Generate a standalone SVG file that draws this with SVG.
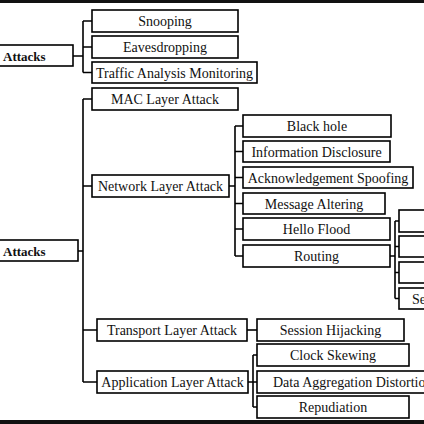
<svg xmlns="http://www.w3.org/2000/svg" width="424" height="424" viewBox="0 0 424 424" font-family="Liberation Serif, Times New Roman, DejaVu Serif, serif">
<style>
.b{fill:#fff;stroke:#000;stroke-width:1.6}
.t{font-size:14px;fill:#111;text-anchor:middle}
.h{font-size:13px;font-weight:bold;fill:#111}
.c{fill:none;stroke:#000;stroke-width:1.6}
</style>
<rect width="424" height="424" fill="#fff"/>
<rect x="0" y="0" width="424" height="3" fill="#111"/>
<rect x="0" y="420" width="424" height="4" fill="#111"/>
<g id="connectors" class="c">
<path d="M73,56H83M83,21V72.5M83,21H92M83,47H92M83,72.5H92"/>
<path d="M78,251H83M83,99V382M83,99H92M83,186H92M83,330H97M83,382H97"/>
<path d="M229,186H235M235,126V256M235,126H243M235,151.5H243M235,177.5H243M235,203.5H243M235,229H243M235,256H243"/>
<path d="M390,256H395M395,221V298.5M395,221H399M395,246.5H399M395,272.5H399M395,298.5H399"/>
<path d="M247,330H257"/>
<path d="M248,382H253M253,355V407M253,355H257M253,382H257M253,407H257"/>
</g>
<g id="passive"><rect class="b" x="-5" y="45" width="78" height="21"/><text class="h" x="3" y="60.5" font-family="Liberation Serif, serif">Attacks</text></g>
<g id="snooping"><rect class="b" x="92" y="10" width="146" height="22"/><text class="t" x="165" y="26" font-family="Liberation Serif, serif">Snooping</text></g>
<g id="eavesdropping"><rect class="b" x="92" y="36" width="146" height="22"/><text class="t" x="165" y="52" font-family="Liberation Serif, serif">Eavesdropping</text></g>
<g id="traffic"><rect class="b" x="92" y="62" width="165" height="21"/><text class="t" x="174.5" y="77.5" font-family="Liberation Serif, serif">Traffic Analysis Monitoring</text></g>
<g id="active"><rect class="b" x="-5" y="240" width="83" height="21"/><text class="h" x="3" y="255.5" font-family="Liberation Serif, serif">Attacks</text></g>
<g id="mac"><rect class="b" x="92" y="88" width="146" height="22"/><text class="t" x="165" y="104" font-family="Liberation Serif, serif">MAC Layer Attack</text></g>
<g id="network"><rect class="b" x="92" y="175" width="137" height="22"/><text class="t" x="160.5" y="191" font-family="Liberation Serif, serif">Network Layer Attack</text></g>
<g id="transport"><rect class="b" x="97" y="319" width="150" height="22"/><text class="t" x="172" y="335" font-family="Liberation Serif, serif">Transport Layer Attack</text></g>
<g id="application"><rect class="b" x="97" y="371" width="151" height="22"/><text class="t" x="172.5" y="387" font-family="Liberation Serif, serif">Application Layer Attack</text></g>
<g id="blackhole"><rect class="b" x="243" y="115" width="148" height="22"/><text class="t" x="317" y="131" font-family="Liberation Serif, serif">Black hole</text></g>
<g id="infodisclosure"><rect class="b" x="243" y="141" width="147" height="21"/><text class="t" x="316.5" y="156.5" font-family="Liberation Serif, serif">Information Disclosure</text></g>
<g id="ackspoofing"><rect class="b" x="243" y="167" width="170" height="21"/><text class="t" x="328" y="182.5" font-family="Liberation Serif, serif">Acknowledgement Spoofing</text></g>
<g id="msgaltering"><rect class="b" x="243" y="193" width="142" height="21"/><text class="t" x="314" y="208.5" font-family="Liberation Serif, serif">Message Altering</text></g>
<g id="helloflood"><rect class="b" x="243" y="218" width="147" height="22"/><text class="t" x="316.5" y="234" font-family="Liberation Serif, serif">Hello Flood</text></g>
<g id="routing"><rect class="b" x="243" y="245" width="147" height="22"/><text class="t" x="316.5" y="261" font-family="Liberation Serif, serif">Routing</text></g>
<g id="routing1"><rect class="b" x="399" y="210" width="40" height="22"/></g>
<g id="routing2"><rect class="b" x="399" y="236" width="40" height="21"/></g>
<g id="routing3"><rect class="b" x="399" y="262" width="40" height="21"/></g>
<g id="routing4"><rect class="b" x="399" y="288" width="40" height="21"/><text class="t" x="412" y="303.5" style="text-anchor:start" font-family="Liberation Serif, serif">Selective Forwarding</text></g>
<g id="session"><rect class="b" x="257" y="319" width="147" height="22"/><text class="t" x="330.5" y="335" font-family="Liberation Serif, serif">Session Hijacking</text></g>
<g id="clock"><rect class="b" x="257" y="344" width="152" height="22"/><text class="t" x="333" y="360" font-family="Liberation Serif, serif">Clock Skewing</text></g>
<g id="dataagg"><rect class="b" x="257" y="371" width="180" height="22"/><text class="t" x="273" y="387" style="text-anchor:start" font-family="Liberation Serif, serif">Data Aggregation Distortion</text></g>
<g id="repudiation"><rect class="b" x="257" y="396" width="152" height="22"/><text class="t" x="333" y="412" font-family="Liberation Serif, serif">Repudiation</text></g>
</svg>
